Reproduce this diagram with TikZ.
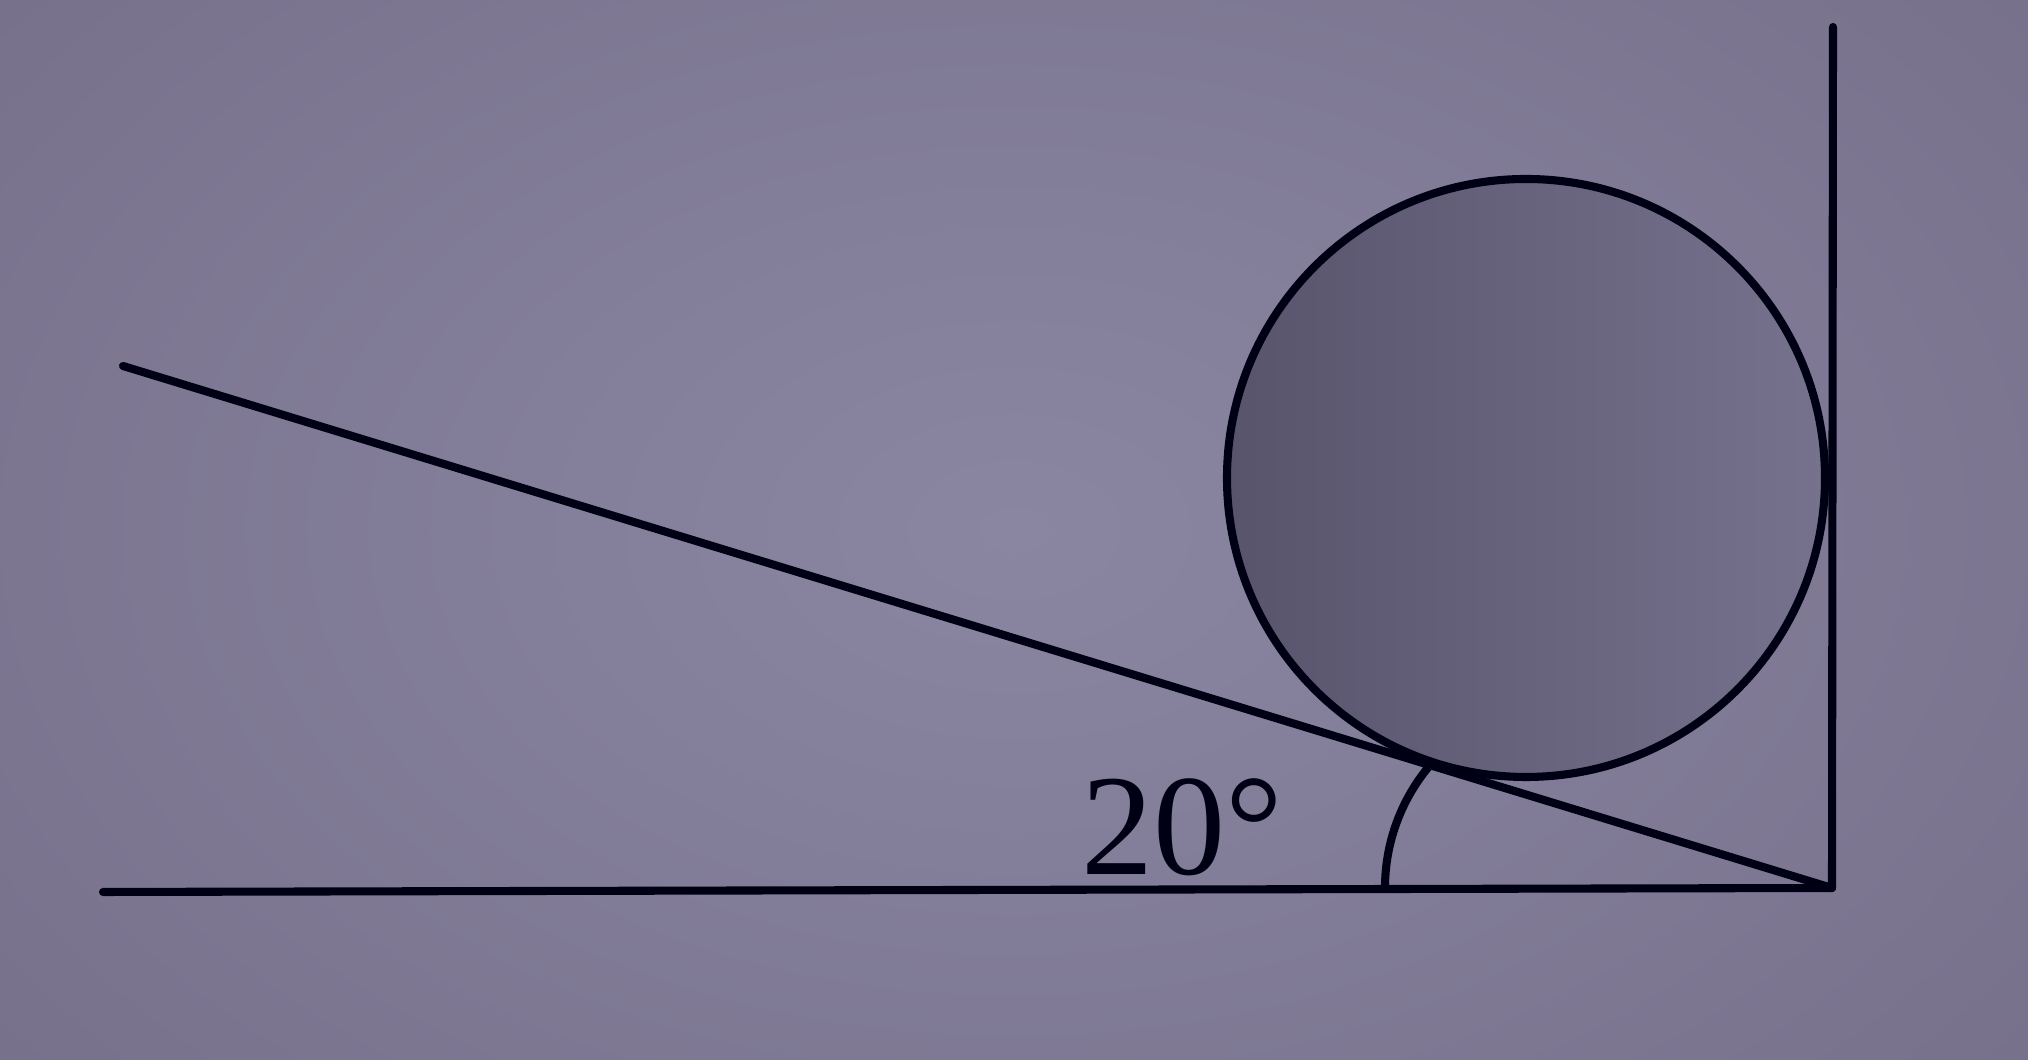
\documentclass[tikz,border=0pt]{standalone}
\usepackage{fontspec}
\setmainfont{Liberation Serif}
\begin{document}
\begin{tikzpicture}[
  ink/.style={line width=2.3pt, draw=black!92!blue, line cap=round},
  lbl/.style={font=\fontsize{41}{48}\selectfont, text=black!92!blue, inner sep=0pt}
]
\definecolor{paperlight}{RGB}{138,134,162}
\definecolor{paperdark}{RGB}{118,111,138}
\definecolor{balldark}{RGB}{88,84,108}
\definecolor{balllight}{RGB}{118,114,142}
\useasboundingbox (0,0) rectangle (20.28,10.6);
\fill[inner color=paperlight, outer color=paperdark] (-4,-4) rectangle (24.28,14.6);
% points
\coordinate (V) at (18.32,1.72);
\coordinate (B) at (1.03,1.68);
\coordinate (T) at (18.33,10.33);
\coordinate (I) at (1.23,6.94);
\coordinate (C) at (15.26,5.82);
\coordinate (A0) at (13.85,1.72);
% ball
\shade[left color=balldark, right color=balllight] (C) circle (2.99);
\draw[ink] (C) circle (2.99);
% lines
\draw[ink] (B) -- (V);
\draw[ink] (V) -- (T);
\draw[ink] (I) -- (V);
% angle arc
\draw[ink] (A0) arc[start angle=180, end angle=139, radius=1.9];
% label
\node[lbl, anchor=base] (ang) at (11.82,1.85) {20°};
\end{tikzpicture}
\end{document}
